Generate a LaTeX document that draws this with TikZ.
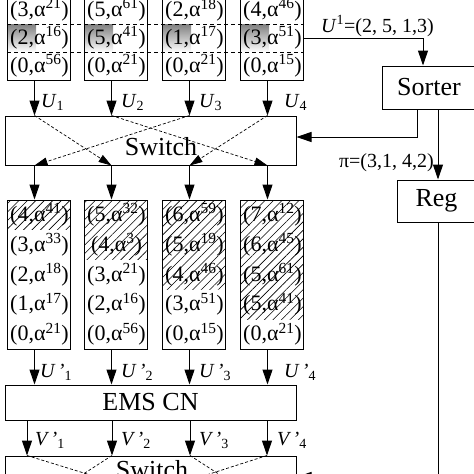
\documentclass[tikz,border=0pt]{standalone}
\usepackage{fontspec}
\setmainfont{Liberation Serif}
\usetikzlibrary{arrows.meta,patterns.meta}

\begin{document}
\begin{tikzpicture}[x=1pt,y=-1pt,
        box/.style={draw, line width=1pt, inner sep=0pt},
        cell/.style={font=\fontsize{22}{24}\selectfont, inner sep=0pt},
        lab/.style={font=\fontsize{20}{22}\selectfont, inner sep=0pt},
        big/.style={font=\fontsize{26}{28}\selectfont, inner sep=0pt},
        arr/.style={line width=1pt, -{Triangle[length=15pt,width=10pt]}},
        swarr/.style={line width=0.7pt, dash pattern=on 3pt off 2pt, -{Triangle[length=13pt,width=8pt]}},
        hatch/.style={pattern={Lines[angle=45,distance=6pt,line width=0.6pt]}}]
            \definecolor{shade}{RGB}{163,163,163}
            \useasboundingbox (0,0) rectangle (474,474);
            \clip (0,0) rectangle (474,474);

            \fill[shade] (7,24) rectangle (36,52);
            \fill[shade] (84,24) rectangle (113,52);
            \fill[shade] (162,24) rectangle (191,52);
            \fill[shade] (240,24) rectangle (269,52);
            \draw[dash pattern=on 4pt off 3pt] (7,24) -- (303,24);
            \draw[dash pattern=on 4pt off 3pt] (7,52) -- (303,52);

            \node[box, minimum width=63, minimum height=84] (a1) at (38.5,38) {};
            \node[box, minimum width=63, minimum height=84] (a2) at (115.5,38) {};
            \node[box, minimum width=63, minimum height=84] (a3) at (193.5,38) {};
            \node[box, minimum width=63, minimum height=84] (a4) at (271.5,38) {};
            \foreach \x/\l [count=\c] in {39.5/{3/21,2/16,0/56},116.5/{5/61,5/41,0/21},194.5/{2/18,1/17,0/21},272.5/{4/46,3/51,0/15}}
                \foreach \d/\e [count=\r] in \l
                    \node[cell] (a\c r\r) at (\x,{28*\r-18}) {(\d,α\textsuperscript{\e})};

            \fill[hatch] (7,200) rectangle (70,229.8);
            \fill[hatch] (84,200) rectangle (147,259.6);
            \fill[hatch] (162,200) rectangle (225,289.4);
            \fill[hatch] (240,200) rectangle (303,319.2);
            \node[box, minimum width=63, minimum height=149] (b1) at (38.5,274.5) {};
            \node[box, minimum width=63, minimum height=149] (b2) at (115.5,274.5) {};
            \node[box, minimum width=63, minimum height=149] (b3) at (193.5,274.5) {};
            \node[box, minimum width=63, minimum height=149] (b4) at (271.5,274.5) {};
            \foreach \x/\l [count=\c] in {39.5/{4/41,3/33,2/18,1/17,0/21},116.5/{5/32,4/3,3/21,2/16,0/56},194.5/{6/59,5/19,4/46,3/51,0/15},272.5/{7/12,6/45,5/61,5/41,0/21}}
                \foreach \d/\e [count=\r] in \l
                    \node[cell] (b\c r\r) at (\x,{29.8*\r+185.1}) {(\d,α\textsuperscript{\e})};

            \node[box, minimum width=291, minimum height=49] (sw1) at (150.5,140.5) {};
            \node[big] (sw1txt) at (161,147) {Switch};
            \node[box, big, minimum width=291, minimum height=35] (ems) at (150.5,402.5) {EMS CN};
            \node[box, minimum width=291, minimum height=49] (sw2) at (150.5,480.5) {};
            \node[big] (sw2txt) at (152,470) {Switch};
            \node[box, big, minimum width=94, minimum height=43] (sorter) at (429,87.5) {Sorter};
            \node[box, big, minimum width=79, minimum height=42] (reg) at (436.5,201) {Reg};

            \foreach \i in {1,...,4} {
                \coordinate (ua\i) at ([xshift=-4]a\i.south);
                \coordinate (s\i) at (ua\i |- sw1.north);
                \coordinate (t\i) at (ua\i |- sw1.south);
                \coordinate (ub\i) at ([xshift=-4]b\i.south);
                \draw[arr] (ua\i) -- (s\i);
                \draw[arr] (t\i) -- (t\i |- b\i.north);
                \draw[arr] (ub\i) -- (ub\i |- ems.north);
            }
            \draw[swarr] (s1) -- (t2);
            \draw[swarr] (s2) -- (t4);
            \draw[swarr] (s3) -- (t1);
            \draw[swarr] (s4) -- (t3);

            \foreach \i/\x in {1/27,2/112,3/190,4/267} {
                \coordinate (v\i) at (\x,0 |- ems.south);
                \coordinate (w\i) at (\x,0 |- sw2.north);
                \coordinate (z\i) at (t\i |- sw2.south);
                \draw[arr] (v\i) -- (w\i);
            }
            \draw[swarr] (w1) -- (z3);
            \draw[swarr] (w2) -- (z1);
            \draw[swarr] (w3) -- (z4);
            \draw[swarr] (w4) -- (z2);

            \node[lab, anchor=base west] (lu1) at (41,107) {\textit{U}\textsubscript{1}};
            \node[lab, anchor=base west] (lu2) at (121,107) {\textit{U}\textsubscript{2}};
            \node[lab, anchor=base west] (lu3) at (199,107) {\textit{U}\textsubscript{3}};
            \node[lab, anchor=base west] (lu4) at (284,107) {\textit{U}\textsubscript{4}};
            \node[lab, anchor=base west] (lp1) at (40,377) {\textit{U\,'}\textsubscript{1}};
            \node[lab, anchor=base west] (lp2) at (121,377) {\textit{U\,'}\textsubscript{2}};
            \node[lab, anchor=base west] (lp3) at (199,377) {\textit{U\,'}\textsubscript{3}};
            \node[lab, anchor=base west] (lp4) at (284,377) {\textit{U\,'}\textsubscript{4}};
            \node[lab, anchor=base west] (lv1) at (35,445) {\textit{V\,'}\textsubscript{1}};
            \node[lab, anchor=base west] (lv2) at (121,445) {\textit{V\,'}\textsubscript{2}};
            \node[lab, anchor=base west] (lv3) at (199,445) {\textit{V\,'}\textsubscript{3}};
            \node[lab, anchor=base west] (lv4) at (277,445) {\textit{V\,'}\textsubscript{4}};
            \node[lab, anchor=base east] (lsort) at (434,32) {\textit{U}\textsuperscript{1}=(2, 5, 1,3)};
            \node[lab, anchor=base east] (lpi) at (434,167) {π=(3,1, 4,2)};

            \coordinate (c1) at (423,0 |- a4.east);
            \draw[arr] (a4.east) -- (c1) -- (c1 |- sorter.north);
            \coordinate (c2) at (417,0 |- sorter.south);
            \coordinate (c3) at (417,137);
            \draw[arr] (c2) -- (c3) -- (c3 -| sw1.east);
            \coordinate (c4) at (438,0 |- sorter.south);
            \draw[arr] (c4) -- (c4 |- reg.north);
            \coordinate (c5) at (438,0 |- reg.south);
            \coordinate (c6) at (438,477);
            \draw[arr] (c5) -- (c6) -- (c6 -| sw2.east);
        \end{tikzpicture}
\end{document}
